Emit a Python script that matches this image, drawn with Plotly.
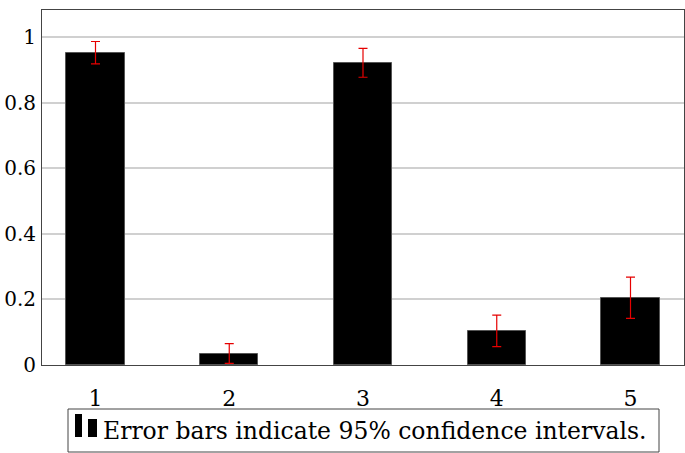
import plotly.graph_objects as go

categories = [1, 2, 3, 4, 5]
values = [0.952, 0.035, 0.921, 0.104, 0.205]
ci_errors = [0.034, 0.030, 0.044, 0.048, 0.063]
y_ticks = [0, 0.2, 0.4, 0.6, 0.8, 1]
y_tick_labels = ["0", "0.2", "0.4", "0.6", "0.8", "1"]
legend_text = "Error bars indicate 95% confidence intervals."

FONT = "DejaVu Serif"

fig = go.Figure()
fig.add_trace(go.Bar(
    x=categories, y=values, width=0.435,
    marker=dict(color="black", line=dict(color="#555555", width=1)),
    error_y=dict(type="data", array=ci_errors, visible=True,
                 color="#e60000", thickness=1.2, width=4.5),
    name=legend_text, showlegend=False,
))

W, H = 685, 453
l, r, t, b = 42, 1, 10, 88
pw = W - l - r
ph = H - t - b

def paper_x(p):
    return (p - l) / pw

def paper_y(p):
    return (H - b - p) / ph

shapes = [
    dict(type="rect", xref="paper", yref="paper",
         x0=paper_x(68), x1=paper_x(659), y0=paper_y(409), y1=paper_y(452),
         line=dict(color="#444444", width=1), fillcolor="white", layer="above"),
    dict(type="rect", xref="paper", yref="paper",
         x0=paper_x(75), x1=paper_x(82), y0=paper_y(414), y1=paper_y(437),
         line=dict(width=0), fillcolor="black", layer="above"),
    dict(type="rect", xref="paper", yref="paper",
         x0=paper_x(88), x1=paper_x(97), y0=paper_y(419), y1=paper_y(437),
         line=dict(width=0), fillcolor="black", layer="above"),
]

fig.update_layout(
    width=W, height=H,
    margin=dict(l=l, r=r, t=t, b=b, autoexpand=False),
    paper_bgcolor="white", plot_bgcolor="white",
    font=dict(family=FONT, size=22, color="black"),
    shapes=shapes,
    annotations=[dict(text=legend_text, xref="paper", yref="paper",
                      x=paper_x(101), y=paper_y(430.5), xanchor="left", yanchor="middle",
                      showarrow=False, font=dict(family=FONT, size=23.5, color="black"))],
    showlegend=False,
    bargap=0,
)
fig.update_xaxes(range=[0.6, 5.4], tickvals=categories, ticktext=[str(c) for c in categories],
                 tickfont=dict(size=22),
                 showgrid=False, zeroline=False, showline=True, mirror=True,
                 linecolor="#444444", linewidth=1, ticks="", ticklabelstandoff=14)
fig.update_yaxes(range=[0, 1.082], tickvals=y_ticks, ticktext=y_tick_labels,
                 tickfont=dict(size=20),
                 showgrid=True, gridcolor="#d0d0d0", gridwidth=1.5,
                 zeroline=False, showline=True, mirror=True,
                 linecolor="#444444", linewidth=1, ticks="", ticklabelstandoff=1)

fig.write_html("out.html", config={"displayModeBar": False},
               post_script="document.body.style.margin='0';document.body.style.padding='0';")
